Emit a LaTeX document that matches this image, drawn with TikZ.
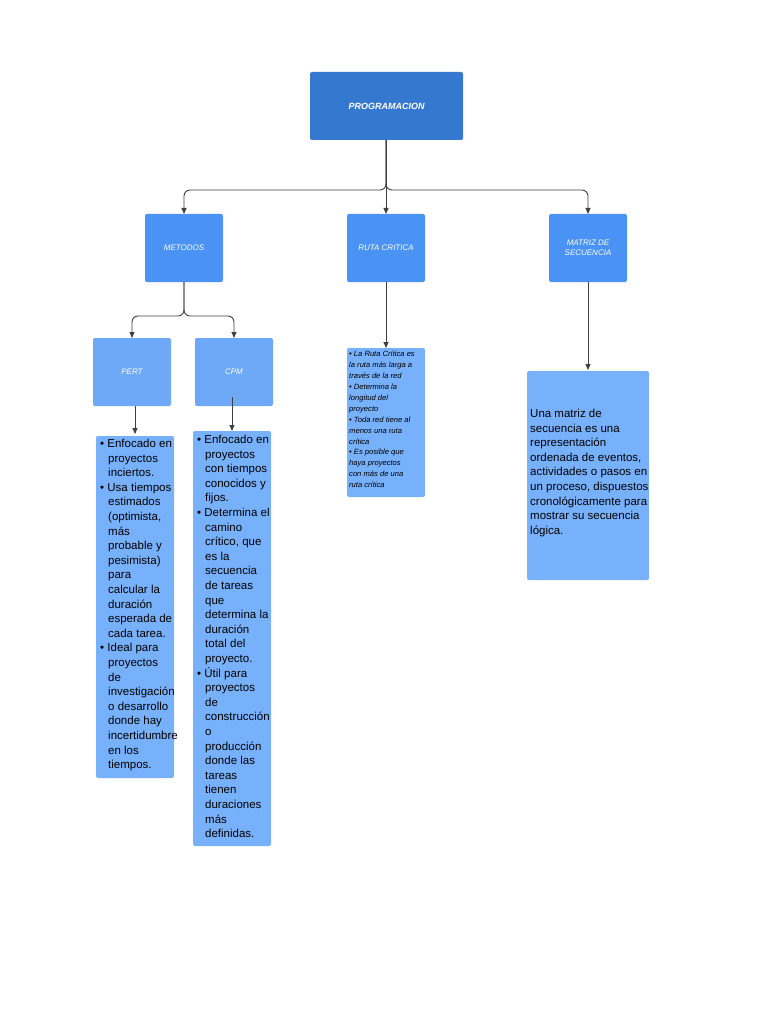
\documentclass[tikz,border=0pt]{standalone}
\usepackage{fontspec}
\setmainfont{Liberation Sans}
\usetikzlibrary{arrows.meta}
\definecolor{top}{HTML}{3478D0}
\definecolor{lvl}{HTML}{4A93F5}
\definecolor{sub}{HTML}{6EA9F8}
\definecolor{txt}{HTML}{78B1FB}
\definecolor{ln}{HTML}{404040}
\begin{document}
\begin{tikzpicture}[x=1pt,y=-1pt,
 box/.style={draw=none,rounded corners=2pt,inner sep=0pt},
 lab/.style={text=white,font=\fontsize{8}{10}\selectfont\itshape,align=center},
 con/.style={draw=ln,line width=0.9pt,-{Triangle[length=6pt,width=5pt]},rounded corners=6pt},
 bt/.style={font=\fontsize{11.5}{14.6}\selectfont,align=left,anchor=north west,inner sep=0pt}]
\useasboundingbox (0,0) rectangle (768,1024);
\fill[white] (0,0) rectangle (768,1024);
% boxes
\fill[box,top] (310,72) rectangle (463,140);
\node[lab,font=\fontsize{9}{11}\selectfont\bfseries\itshape] (prog) at (386.5,106) {PROGRAMACION};
\fill[box,lvl] (145,214) rectangle (223,282);
\node[lab] (met) at (184,248) {METODOS};
\fill[box,lvl] (347,214) rectangle (425,282);
\node[lab] (ruta) at (386,248) {RUTA CRITICA};
\fill[box,lvl] (549,214) rectangle (627,282);
\node[lab] (mat) at (588,248) {MATRIZ DE\\SECUENCIA};
\fill[box,sub] (93,338) rectangle (171,406);
\node[lab] (pert) at (132,372) {PERT};
\fill[box,sub] (195,338) rectangle (273,406);
\node[lab] (cpm) at (234,372) {CPM};
\fill[box,txt] (96,436) rectangle (174,778);
\fill[box,txt] (193,431) rectangle (271,846);
\fill[box,txt] (347,348) rectangle (425,497);
\fill[box,txt] (527,371) rectangle (649,580);
\coordinate (pertT) at (135,434);
\coordinate (cpmT) at (232,431);
\coordinate (rutaT) at (386,348);
\coordinate (matT) at (588,370);
% connectors
\draw[con] (386,140) -- (386,190) -- (184,190) -- (184,214);
\draw[con] (386,140) -- (386,190) -- (588,190) -- (588,214);
\draw[con] (386,140) -- (386,214);
\draw[con] (184,282) -- (184,316) -- (132,316) -- (132,338);
\draw[con] (184,282) -- (184,316) -- (234,316) -- (234,338);
\draw[con] (135,406) -- (pertT);
\draw[con] (232,397) -- (cpmT);
\draw[con] (386,282) -- (rutaT);
\draw[con] (588,282) -- (matT);
% texts
\node[bt] (pt) at (100,439) {\textbullet\ Enfocado en\\\hspace*{8pt}proyectos\\\hspace*{8pt}inciertos.\\\textbullet\ Usa tiempos\\\hspace*{8pt}estimados\\\hspace*{8pt}(optimista,\\\hspace*{8pt}más\\\hspace*{8pt}probable y\\\hspace*{8pt}pesimista)\\\hspace*{8pt}para\\\hspace*{8pt}calcular la\\\hspace*{8pt}duración\\\hspace*{8pt}esperada de\\\hspace*{8pt}cada tarea.\\\textbullet\ Ideal para\\\hspace*{8pt}proyectos\\\hspace*{8pt}de\\\hspace*{8pt}investigación\\\hspace*{8pt}o desarrollo\\\hspace*{8pt}donde hay\\\hspace*{8pt}incertidumbre\\\hspace*{8pt}en los\\\hspace*{8pt}tiempos.};
\node[bt] (ct) at (197,435) {\textbullet\ Enfocado en\\\hspace*{8pt}proyectos\\\hspace*{8pt}con tiempos\\\hspace*{8pt}conocidos y\\\hspace*{8pt}fijos.\\\textbullet\ Determina el\\\hspace*{8pt}camino\\\hspace*{8pt}crítico, que\\\hspace*{8pt}es la\\\hspace*{8pt}secuencia\\\hspace*{8pt}de tareas\\\hspace*{8pt}que\\\hspace*{8pt}determina la\\\hspace*{8pt}duración\\\hspace*{8pt}total del\\\hspace*{8pt}proyecto.\\\textbullet\ Útil para\\\hspace*{8pt}proyectos\\\hspace*{8pt}de\\\hspace*{8pt}construcción\\\hspace*{8pt}o\\\hspace*{8pt}producción\\\hspace*{8pt}donde las\\\hspace*{8pt}tareas\\\hspace*{8pt}tienen\\\hspace*{8pt}duraciones\\\hspace*{8pt}más\\\hspace*{8pt}definidas.};
\node[bt,font=\fontsize{7.6}{10.9}\selectfont\itshape] (rt) at (349,351) {\textbullet\ La Ruta Crítica es\\la ruta más larga a\\través de la red\\\textbullet\ Determina la\\longitud del\\proyecto\\\textbullet\ Toda red tiene al\\menos una ruta\\crítica\\\textbullet\ Es posible que\\haya proyectos\\con más de una\\ruta crítica};
\node[bt] (mt) at (530,409) {Una matriz de\\secuencia es una\\representación\\ordenada de eventos,\\actividades o pasos en\\un proceso, dispuestos\\cronológicamente para\\mostrar su secuencia\\lógica.};
\end{tikzpicture}
\end{document}
